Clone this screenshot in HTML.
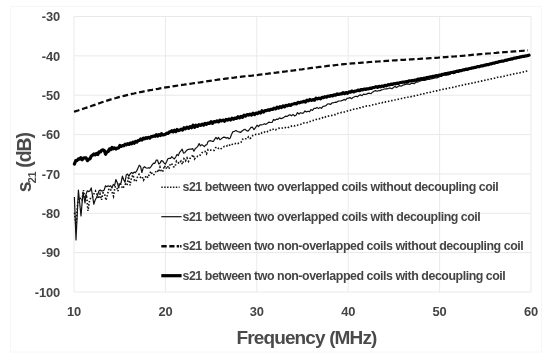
<!DOCTYPE html>
<html><head><meta charset="utf-8"><title>s21 chart</title>
<style>
html,body{margin:0;padding:0;background:#fff;}
body{width:550px;height:360px;overflow:hidden;}
svg{display:block;filter:blur(0.4px);}
text{font-family:"Liberation Sans",sans-serif;fill:#444;}
.ax text{font-size:12.9px;font-weight:bold;letter-spacing:-0.15px;}
.lg{font-size:12.4px;font-weight:bold;letter-spacing:-0.46px;}
.ttl{font-size:19px;font-weight:bold;letter-spacing:-0.87px;fill:#4a4a4a;}
.grid line{stroke:#e9e9e9;stroke-width:1;}
.dots{stroke:#111;stroke-width:1.65;stroke-dasharray:1.5 1.8;fill:none;}
.thin{stroke:#111;stroke-width:1.2;fill:none;stroke-linejoin:round;}
.dash{stroke:#0a0a0a;stroke-width:2.25;stroke-dasharray:5.7 2.8;fill:none;}
.thick{stroke:#000;stroke-width:3.2;fill:none;stroke-linejoin:round;stroke-linecap:round;}
</style></head><body>
<svg width="550" height="360" viewBox="0 0 550 360">
<rect x="0" y="0" width="550" height="360" fill="#fff"/>
<rect x="10.5" y="6.5" width="531" height="345.5" fill="none" stroke="#f6f6f6" stroke-width="1"/>
<g class="grid">
<line x1="74.0" y1="16.50" x2="531.0" y2="16.50"/>
<line x1="74.0" y1="55.86" x2="531.0" y2="55.86"/>
<line x1="74.0" y1="95.21" x2="531.0" y2="95.21"/>
<line x1="74.0" y1="134.57" x2="531.0" y2="134.57"/>
<line x1="74.0" y1="173.93" x2="531.0" y2="173.93"/>
<line x1="74.0" y1="213.29" x2="531.0" y2="213.29"/>
<line x1="74.0" y1="252.64" x2="531.0" y2="252.64"/>
<line x1="74.0" y1="292.00" x2="531.0" y2="292.00"/>
<line x1="74.00" y1="16.5" x2="74.00" y2="292.0"/>
<line x1="165.40" y1="16.5" x2="165.40" y2="292.0"/>
<line x1="256.80" y1="16.5" x2="256.80" y2="292.0"/>
<line x1="348.20" y1="16.5" x2="348.20" y2="292.0"/>
<line x1="439.60" y1="16.5" x2="439.60" y2="292.0"/>
<line x1="531.00" y1="16.5" x2="531.00" y2="292.0"/>
</g>
<g class="ax">
<text x="60" y="21.3" text-anchor="end">-30</text>
<text x="60" y="60.7" text-anchor="end">-40</text>
<text x="60" y="100.0" text-anchor="end">-50</text>
<text x="60" y="139.4" text-anchor="end">-60</text>
<text x="60" y="178.7" text-anchor="end">-70</text>
<text x="60" y="218.1" text-anchor="end">-80</text>
<text x="60" y="257.4" text-anchor="end">-90</text>
<text x="60" y="296.8" text-anchor="end">-100</text>
<text x="74.0" y="316.4" text-anchor="middle">10</text>
<text x="165.4" y="316.4" text-anchor="middle">20</text>
<text x="256.8" y="316.4" text-anchor="middle">30</text>
<text x="348.2" y="316.4" text-anchor="middle">40</text>
<text x="439.6" y="316.4" text-anchor="middle">50</text>
<text x="531.0" y="316.4" text-anchor="middle">60</text>
</g>
<polyline class="dots" points="74.5,212.7 76.0,226.0 77.5,204.7 79.0,197.5 80.5,198.6 82.0,200.3 83.5,190.1 85.0,199.5 86.5,194.8 88.0,210.9 89.5,201.1 91.0,196.9 92.5,196.8 94.0,193.8 95.5,191.0 97.0,194.3 98.5,198.7 100.0,194.0 101.5,199.9 103.0,192.9 104.5,193.4 106.0,200.3 107.5,194.4 109.0,188.5 110.5,189.4 112.0,192.1 113.5,196.2 115.0,187.1 116.5,186.6 118.0,191.2 119.5,182.7 121.0,184.5 122.5,188.5 124.0,186.6 125.5,184.1 127.0,185.5 128.5,176.6 130.0,185.3 131.5,177.7 133.0,174.9 134.5,180.6 136.0,181.4 137.5,177.0 139.0,174.4 140.5,177.3 142.0,176.4 143.5,180.2 145.0,177.7 146.5,175.6 148.0,177.7 149.5,173.7 151.0,171.4 152.5,175.0 154.0,174.6 155.5,172.1 157.0,170.2 158.5,172.2 160.0,167.2 161.5,172.0 163.0,170.9 164.5,165.6 166.0,168.7 167.5,165.9 169.0,168.9 170.5,163.4 172.0,164.2 173.5,166.8 175.0,167.0 176.5,161.1 178.0,162.5 179.5,163.4 181.0,161.1 182.5,164.4 184.0,158.8 185.5,160.9 187.0,157.9 188.5,161.3 190.0,158.4 191.5,157.2 193.0,154.7 194.5,159.0 196.0,157.0 197.5,156.4 199.0,156.3 200.5,154.6 202.0,152.7 203.5,151.9 205.0,151.4 206.5,153.8 208.0,149.6 209.5,150.3 211.0,150.2 212.5,150.4 214.0,150.4 215.5,147.8 217.0,147.0 218.5,148.4 220.0,149.3 221.5,148.4 223.0,147.3 224.5,146.3 226.0,146.5 227.5,145.5 229.0,146.0 230.5,144.0 232.0,144.4 233.5,143.6 235.0,143.7 236.5,142.9 238.0,143.5 239.5,142.9 241.0,142.3 242.5,139.2 244.0,139.6 245.5,138.8 247.0,139.1 248.5,136.9 250.0,138.4 251.5,137.6 253.0,135.3 254.5,134.8 256.0,134.3 257.5,134.3 259.0,134.2 260.5,134.3 262.0,132.6 263.5,132.7 265.0,131.8 266.5,132.2 268.0,131.2 269.5,131.1 271.0,129.3 272.5,129.5 274.0,128.9 275.5,129.8 277.0,129.1 278.5,128.4 280.0,128.1 281.5,128.4 283.0,127.6 284.5,127.3 286.0,127.7 287.5,128.0 289.0,126.9 290.5,126.5 292.0,125.9 293.5,125.5 295.0,126.0 296.5,125.7 298.0,125.0 299.5,124.8 301.0,124.3 302.5,123.9 304.0,122.9 305.5,122.9 307.0,122.7 308.5,121.9 310.0,121.5 311.5,120.9 313.0,120.5 314.5,120.4 316.0,119.5 317.5,119.0 319.0,118.9 320.5,118.4 322.0,118.2 323.5,116.8 325.0,117.1 326.5,116.3 328.0,116.1 329.5,116.0 331.0,115.6 332.5,115.2 334.0,114.6 335.5,114.6 337.0,113.6 338.5,113.3 340.0,113.1 341.5,112.4 343.0,112.5 344.5,112.0 346.0,111.7 347.5,110.9 349.0,110.5 350.5,110.2 352.0,110.0 353.5,109.3 355.0,109.1 356.5,108.7 358.0,108.6 359.5,107.8 361.0,107.8 362.5,107.1 364.0,106.7 365.5,106.3 367.0,105.9 368.5,105.8 370.0,105.6 371.5,105.1 373.0,104.8 374.5,104.7 376.0,104.1 377.5,103.7 379.0,103.3 380.5,102.7 382.0,102.8 383.5,102.1 385.0,102.1 386.5,101.7 388.0,101.5 389.5,101.0 391.0,100.6 392.5,100.5 394.0,100.0 395.5,99.8 397.0,99.5 398.5,99.2 400.0,98.9 401.5,98.5 403.0,98.3 404.5,97.8 406.0,97.7 407.5,97.2 409.0,97.2 410.5,97.0 412.0,96.2 413.5,96.1 415.0,95.8 416.5,95.3 418.0,95.2 419.5,94.7 421.0,94.2 422.5,94.0 424.0,93.7 425.5,93.4 427.0,92.8 428.5,92.7 430.0,92.4 431.5,91.8 433.0,91.5 434.5,91.2 436.0,90.8 437.5,90.8 439.0,90.3 440.5,89.8 442.0,89.5 443.5,89.2 445.0,89.1 446.5,88.6 448.0,88.3 449.5,88.0 451.0,87.6 452.5,87.5 454.0,86.9 455.5,86.7 457.0,86.3 458.5,86.0 460.0,85.5 461.5,85.5 463.0,85.0 464.5,84.7 466.0,84.2 467.5,83.9 469.0,83.7 470.5,83.5 472.0,83.1 473.5,82.8 475.0,82.5 476.5,82.1 478.0,81.8 479.5,81.5 481.0,81.1 482.5,80.8 484.0,80.6 485.5,80.1 487.0,79.7 488.5,79.5 490.0,79.3 491.5,78.8 493.0,78.5 494.5,78.2 496.0,78.0 497.5,77.3 499.0,77.2 500.5,77.0 502.0,76.5 503.5,76.4 505.0,76.0 506.5,75.5 508.0,75.3 509.5,74.8 511.0,74.6 512.5,74.5 514.0,73.9 515.5,73.8 517.0,73.3 518.5,73.1 520.0,72.7 521.5,72.2 523.0,72.0 524.5,71.8 526.0,71.3 527.5,71.0"/>
<polyline class="thin" points="74.4,197.0 76.0,240.0 78.4,190.0 81.0,216.0 83.0,192.0 85.0,203.0 86.0,194.4 87.3,190.8 88.6,191.6 89.9,190.9 91.2,187.9 92.5,195.5 93.8,204.2 95.1,200.2 96.4,197.8 97.7,194.7 99.0,190.7 100.3,190.1 101.6,190.9 102.9,190.9 104.2,190.0 105.5,185.8 106.8,186.7 108.1,185.8 109.4,186.5 110.7,185.9 112.0,188.0 113.3,184.4 114.6,185.6 115.9,179.5 117.2,182.4 118.5,187.2 119.8,184.3 121.1,182.7 122.4,176.2 123.7,179.8 125.0,182.3 126.3,174.8 127.6,174.1 128.9,176.3 130.2,173.9 131.5,172.4 132.8,173.5 134.1,172.1 135.4,172.6 136.7,170.9 138.0,167.9 139.3,165.2 140.6,166.7 141.9,172.5 143.2,167.9 144.5,166.7 145.8,167.8 147.1,168.2 148.4,167.7 149.7,168.2 151.0,166.6 152.3,164.7 153.6,163.1 154.9,163.3 156.2,160.2 157.5,160.1 158.8,164.0 160.1,163.1 161.4,160.6 162.7,161.1 164.0,162.8 165.3,164.2 166.6,161.8 167.9,158.7 169.2,158.3 170.5,158.3 171.8,156.7 173.1,157.9 174.4,158.9 175.7,157.0 177.0,154.4 178.3,155.6 179.6,152.3 180.9,150.9 182.2,149.2 183.5,153.1 184.8,152.7 186.1,151.0 187.4,149.8 188.7,149.3 190.0,149.0 191.3,149.2 192.6,148.6 193.9,151.2 195.2,148.8 196.5,147.6 197.8,146.3 199.1,143.5 200.4,145.9 201.7,144.8 203.0,145.4 204.3,146.6 205.6,145.1 206.9,144.6 208.2,141.3 209.5,140.9 210.8,140.7 212.1,141.3 213.4,141.4 214.7,139.2 216.0,137.4 217.3,139.0 218.6,137.5 219.9,139.7 221.2,138.9 222.5,137.7 223.8,137.1 225.1,137.4 226.4,138.1 227.7,137.5 229.0,138.8 230.3,137.9 231.6,134.3 232.9,131.7 234.5,131.3 236.0,130.5 237.5,131.5 239.0,131.9 240.5,132.5 242.0,131.0 243.5,129.9 245.0,129.3 246.5,130.6 248.0,131.2 249.5,129.3 251.0,127.3 252.5,127.2 254.0,129.6 255.5,127.6 257.0,125.2 258.5,126.5 260.0,124.8 261.5,124.9 263.0,124.5 264.5,123.7 266.0,124.4 267.5,123.2 269.0,122.1 270.5,122.5 272.0,122.4 273.5,119.4 275.0,120.3 276.5,119.1 278.0,119.4 279.5,117.8 281.0,118.6 282.5,118.1 284.0,117.3 285.5,116.2 287.0,116.4 288.5,115.4 290.0,114.7 291.5,115.8 293.0,114.3 294.5,115.9 296.0,115.2 297.5,112.6 299.0,114.2 300.5,112.7 302.0,113.3 303.5,112.9 305.0,110.9 306.5,111.9 308.0,111.3 309.5,111.8 311.0,109.5 312.5,110.4 314.0,108.4 315.5,108.4 317.0,107.4 318.5,108.6 320.0,107.4 321.5,108.3 323.0,106.4 324.5,106.1 326.0,105.6 327.5,104.0 329.0,103.9 330.5,104.5 332.0,102.8 333.5,102.8 335.0,102.2 336.5,102.3 338.0,101.2 339.5,101.0 341.0,100.9 342.5,100.4 344.0,99.4 345.5,100.2 347.0,98.4 348.5,98.1 350.0,97.6 351.5,98.7 353.0,97.5 354.5,96.7 356.0,96.2 357.5,96.8 359.0,95.4 360.5,94.9 362.0,95.7 363.5,94.2 365.0,94.3 366.5,94.1 368.0,93.4 369.5,93.2 371.0,93.7 372.5,92.2 374.0,91.3 375.5,90.6 377.0,91.2 378.5,90.7 380.0,90.7 381.5,89.9 383.0,89.5 384.5,89.0 386.0,88.8 387.5,88.8 389.0,88.2 390.5,88.1 392.0,88.7 393.5,87.6 395.0,86.2 396.5,87.6 398.0,86.5 399.5,85.6 401.0,86.2 402.5,85.4 404.0,84.8 405.5,84.4 407.0,83.9 408.5,84.1 410.0,84.3 411.5,83.2 413.0,83.3 414.5,83.6 416.0,81.8 417.5,82.1 419.0,81.5 420.5,80.8 422.0,80.4 423.5,80.5 425.0,80.4 426.5,79.6 428.0,79.5 429.5,79.4 431.0,78.8 432.5,78.7 434.0,78.2 435.5,77.8 437.0,78.0 438.5,77.1 440.0,76.5 441.5,76.4 443.0,75.3 444.5,75.1 446.0,75.2 447.5,74.8 449.0,74.8 450.5,73.8 452.0,72.8 453.5,73.8 455.0,73.0 456.5,71.8 458.0,72.4 459.5,71.5 461.0,70.4 462.5,70.5 464.0,70.1 465.5,70.5 467.0,69.2 468.5,69.1 470.0,68.7 471.5,68.2 473.0,67.7 474.5,67.7 476.0,67.7 477.5,67.1 479.0,66.2 480.5,65.8 482.0,65.9 483.5,65.2 485.0,64.9 486.5,64.2 488.0,65.1 489.5,64.4 491.0,63.4 492.5,63.7 494.0,63.5 495.5,61.9 497.0,62.2 498.5,61.9 500.0,61.9 501.5,61.3 503.0,60.9 504.5,60.6 506.0,60.9 507.5,60.7 509.0,59.5 510.5,59.0 512.0,59.8 513.5,58.4 515.0,58.2 516.5,58.0 518.0,57.8 519.5,57.7 521.0,57.2 522.5,56.5 524.0,56.6 525.5,56.2 527.0,56.4 528.5,55.5 530.0,54.8"/>
<polyline class="dash" points="74.0,111.8 76.0,111.1 78.0,110.5 80.0,109.8 82.0,109.2 84.0,108.5 86.0,107.8 88.0,107.2 90.0,106.5 92.0,105.8 94.0,105.1 96.0,104.4 98.0,103.7 100.0,103.0 102.0,102.3 104.0,101.6 106.0,100.9 108.0,100.3 110.0,99.7 112.0,99.1 114.0,98.5 116.0,98.0 118.0,97.4 120.0,96.9 122.0,96.4 124.0,95.9 126.0,95.4 128.0,94.9 130.0,94.4 132.0,93.9 134.0,93.5 136.0,93.0 138.0,92.6 140.0,92.2 142.0,91.8 144.0,91.4 146.0,91.0 148.0,90.6 150.0,90.2 152.0,89.9 154.0,89.5 156.0,89.1 158.0,88.8 160.0,88.4 162.0,88.1 164.0,87.7 166.0,87.4 168.0,87.1 170.0,86.8 172.0,86.4 174.0,86.1 176.0,85.8 178.0,85.5 180.0,85.2 182.0,84.9 184.0,84.7 186.0,84.4 188.0,84.1 190.0,83.8 192.0,83.5 194.0,83.2 196.0,82.9 198.0,82.6 200.0,82.4 202.0,82.1 204.0,81.8 206.0,81.5 208.0,81.2 210.0,80.9 212.0,80.6 214.0,80.3 216.0,80.0 218.0,79.7 220.0,79.4 222.0,79.1 224.0,78.9 226.0,78.6 228.0,78.3 230.0,78.1 232.0,77.8 234.0,77.6 236.0,77.3 238.0,77.1 240.0,76.9 242.0,76.6 244.0,76.4 246.0,76.2 248.0,76.0 250.0,75.8 252.0,75.6 254.0,75.3 256.0,75.1 258.0,74.9 260.0,74.6 262.0,74.4 264.0,74.2 266.0,73.9 268.0,73.7 270.0,73.4 272.0,73.2 274.0,72.9 276.0,72.7 278.0,72.4 280.0,72.2 282.0,71.9 284.0,71.6 286.0,71.4 288.0,71.1 290.0,70.9 292.0,70.6 294.0,70.4 296.0,70.1 298.0,69.8 300.0,69.5 302.0,69.3 304.0,69.0 306.0,68.7 308.0,68.5 310.0,68.2 312.0,67.9 314.0,67.7 316.0,67.4 318.0,67.2 320.0,66.9 322.0,66.7 324.0,66.4 326.0,66.2 328.0,65.9 330.0,65.7 332.0,65.5 334.0,65.3 336.0,65.0 338.0,64.8 340.0,64.6 342.0,64.4 344.0,64.2 346.0,64.0 348.0,63.8 350.0,63.6 352.0,63.4 354.0,63.3 356.0,63.1 358.0,63.0 360.0,62.8 362.0,62.6 364.0,62.5 366.0,62.3 368.0,62.2 370.0,62.0 372.0,61.9 374.0,61.8 376.0,61.6 378.0,61.5 380.0,61.3 382.0,61.2 384.0,61.1 386.0,60.9 388.0,60.8 390.0,60.7 392.0,60.5 394.0,60.4 396.0,60.3 398.0,60.2 400.0,60.0 402.0,59.9 404.0,59.8 406.0,59.7 408.0,59.6 410.0,59.4 412.0,59.3 414.0,59.2 416.0,59.1 418.0,59.0 420.0,58.8 422.0,58.7 424.0,58.6 426.0,58.5 428.0,58.3 430.0,58.2 432.0,58.1 434.0,57.9 436.0,57.8 438.0,57.7 440.0,57.5 442.0,57.4 444.0,57.2 446.0,57.1 448.0,56.9 450.0,56.8 452.0,56.6 454.0,56.5 456.0,56.3 458.0,56.2 460.0,56.0 462.0,55.8 464.0,55.7 466.0,55.5 468.0,55.3 470.0,55.1 472.0,54.9 474.0,54.7 476.0,54.6 478.0,54.4 480.0,54.2 482.0,54.0 484.0,53.9 486.0,53.7 488.0,53.5 490.0,53.4 492.0,53.2 494.0,53.0 496.0,52.9 498.0,52.7 500.0,52.5 502.0,52.4 504.0,52.2 506.0,52.1 508.0,51.9 510.0,51.7 512.0,51.6 514.0,51.4 516.0,51.3 518.0,51.1 520.0,51.0 522.0,50.8 524.0,50.7 526.0,50.5 528.0,50.4"/>
<polyline class="thick" points="74.4,164.1 75.7,160.7 77.0,160.6 78.3,158.9 79.6,159.1 80.9,157.6 82.2,159.7 83.5,158.1 84.8,157.9 86.1,157.9 87.4,160.7 88.7,159.3 90.0,158.8 91.3,156.0 92.6,155.2 93.9,154.0 95.2,154.8 96.5,153.5 97.8,154.5 99.1,151.8 100.4,152.0 101.7,150.2 103.0,149.8 104.3,150.6 105.6,154.3 106.9,152.0 108.2,151.5 109.5,148.8 110.8,149.7 112.1,147.4 113.4,148.8 114.7,147.9 116.0,149.1 117.3,148.1 118.6,148.0 119.9,145.5 121.2,146.4 122.5,145.5 123.8,145.8 125.1,144.2 126.4,144.9 127.7,143.7 129.0,144.4 130.3,143.0 131.6,143.8 132.9,142.1 134.2,143.2 135.5,141.4 136.8,142.1 138.1,140.6 139.4,140.5 140.7,138.9 142.0,140.0 143.3,138.2 144.6,138.8 145.9,137.6 147.2,138.3 148.5,137.3 149.8,138.0 151.1,136.7 152.4,136.7 153.7,136.0 155.0,136.3 156.3,134.7 157.6,136.1 158.9,134.7 160.2,135.5 161.5,133.7 162.8,135.0 164.1,134.7 165.4,134.2 166.7,133.2 168.0,133.5 169.3,131.9 170.6,131.9 171.9,130.6 173.2,131.9 174.5,130.3 175.8,131.6 177.1,129.5 178.4,130.6 179.5,130.3 181.0,129.2 182.5,130.0 184.0,127.8 185.5,128.8 187.0,127.1 188.5,128.4 190.0,126.6 191.5,127.8 193.0,125.2 194.5,127.4 196.0,125.2 197.5,126.4 199.0,124.6 200.5,125.4 202.0,124.2 203.5,125.2 205.0,123.3 206.5,124.3 208.0,123.0 209.5,123.4 211.0,121.7 212.5,123.3 214.0,121.5 215.5,122.0 217.0,120.9 218.5,121.9 220.0,120.2 221.5,121.0 223.0,120.1 224.5,121.3 226.0,119.4 227.5,120.1 229.0,119.0 230.5,120.0 232.0,118.2 233.5,119.3 235.0,118.0 236.5,118.4 238.0,116.7 239.5,117.9 241.0,116.4 242.5,117.4 244.0,115.2 245.5,116.1 247.0,114.6 248.5,115.1 250.0,114.2 251.5,115.0 253.0,113.2 254.5,114.6 256.0,113.0 257.5,113.6 259.0,112.1 260.5,113.0 262.0,110.8 263.5,112.1 265.0,110.7 266.5,110.6 268.0,109.8 269.5,110.3 271.0,109.2 272.5,109.5 274.0,108.2 275.5,108.9 277.0,107.2 278.5,108.2 280.0,106.7 281.5,107.5 283.0,105.8 284.5,106.9 286.0,105.4 287.5,105.8 289.0,104.7 290.5,105.5 292.0,104.3 293.5,104.0 295.0,103.4 296.5,103.9 298.0,102.4 299.5,102.8 301.0,102.1 302.5,102.0 304.0,101.3 305.5,102.0 307.0,100.1 308.5,100.9 310.0,99.5 311.5,100.4 313.0,99.5 314.5,100.2 316.0,98.1 317.5,98.9 319.0,98.1 320.5,98.8 322.0,97.4 323.5,97.6 325.0,96.7 326.5,97.1 328.0,96.0 329.5,96.3 331.0,95.5 332.5,95.9 334.0,94.8 335.5,95.2 337.0,93.9 338.5,94.5 340.0,93.9 341.5,94.0 343.0,92.7 344.5,93.7 346.0,92.5 347.5,93.3 349.0,91.9 350.5,92.2 352.0,91.0 353.5,92.0 355.0,91.2 356.5,91.0 358.0,90.1 359.5,90.7 361.0,89.5 362.5,90.0 364.0,89.0 365.5,89.5 367.0,88.8 368.5,88.9 370.0,88.2 371.5,88.3 373.0,87.5 374.5,87.4 376.0,86.7 377.5,87.4 379.0,86.3 380.5,86.8 382.0,86.0 383.5,86.4 385.0,85.4 386.5,85.8 388.0,84.7 389.5,84.9 391.0,84.1 392.5,84.4 394.0,83.5 395.5,83.8 397.0,83.1 398.5,83.4 400.0,82.5 401.5,82.5 403.0,82.0 404.5,82.3 406.0,81.6 407.5,81.8 409.0,80.8 410.5,81.0 412.0,80.6 413.5,80.7 415.0,80.0 416.5,80.3 418.0,79.1 419.5,79.5 421.0,78.7 422.5,78.9 424.0,78.1 425.5,78.3 427.0,77.5 428.5,77.4 430.0,76.9 431.5,76.9 433.0,76.3 434.5,76.3 436.0,75.7 437.5,75.9 439.0,75.1 440.5,75.2 442.0,74.4 443.5,74.4 445.0,73.7 446.5,73.8 448.0,73.2 449.5,73.2 451.0,72.5 452.5,72.4 454.0,71.9 455.5,71.8 457.0,71.1 458.5,71.2 460.0,70.5 461.5,70.6 463.0,69.8 464.5,69.8 466.0,69.1 467.5,69.4 469.0,68.6 470.5,68.5 472.0,67.9 473.5,67.8 475.0,67.4 476.5,67.1 478.0,66.6 479.5,66.6 481.0,65.8 482.5,65.9 484.0,65.3 485.5,65.2 487.0,64.6 488.5,64.6 490.0,63.8 491.5,63.8 493.0,63.1 494.5,63.1 496.0,62.3 497.5,62.4 499.0,61.7 500.5,61.5 502.0,61.0 503.5,61.1 505.0,60.4 506.5,60.2 508.0,59.7 509.5,59.5 511.0,58.9 512.5,58.9 514.0,58.1 515.5,58.2 517.0,57.6 518.5,57.5 520.0,56.9 521.5,56.8 523.0,56.3 524.5,56.3 526.0,55.8 527.5,55.6 529.0,55.2"/>
<g>
<line class="dots" x1="161.3" y1="187.2" x2="179.6" y2="187.2" style="stroke-dasharray:1.45 1.45"/>
<text class="lg" x="182.5" y="191.2">s21 between two overlapped coils without decoupling coil</text>
<line class="thin" x1="161.3" y1="216.7" x2="181.6" y2="216.7"/>
<text class="lg" x="182.5" y="220.7">s21 between two overlapped coils with decoupling coil</text>
<line class="dash" x1="161.3" y1="246.2" x2="181.6" y2="246.2" style="stroke-dasharray:5.4 2.6 5.2 2.2 2.4 1 1.4 9;stroke-width:2.4"/>
<text class="lg" x="182.5" y="250.2">s21 between two non-overlapped coils without decoupling coil</text>
<line class="thick" x1="161.3" y1="275.7" x2="181.6" y2="275.7" style="stroke-linecap:butt"/>
<text class="lg" x="182.5" y="279.7">s21 between two non-overlapped coils with decoupling coil</text>
</g>
<text class="ttl" x="306.5" y="344" text-anchor="middle">Frequency (MHz)</text>
<text class="ttl" transform="translate(30.6,162.8) rotate(-90)" text-anchor="middle" style="font-size:19.5px;letter-spacing:-1.15px">s<tspan dy="5" dx="-0.5" style="font-size:11px;letter-spacing:-0.5px">21</tspan><tspan dy="-5"> (dB)</tspan></text>
</svg>
</body></html>
